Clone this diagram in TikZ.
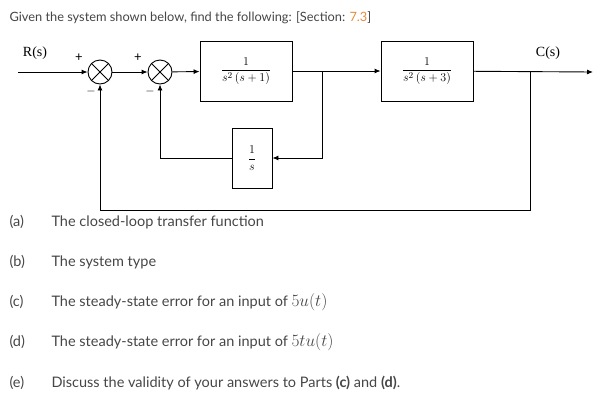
\documentclass[tikz,border=0pt]{standalone}
\usepackage{amsmath}
\usepackage{fontspec}
\setmainfont{Lato}
\newfontfamily\serifb{Liberation Serif}
\usetikzlibrary{arrows.meta}
\definecolor{txt}{RGB}{70,70,70}
\definecolor{lnk}{RGB}{230,140,60}
\begin{document}
\begin{tikzpicture}[x=1pt,y=-1pt,
  blk/.style={draw,line width=0.9pt,minimum width=92pt,minimum height=60pt,inner sep=0pt,font=\fontsize{13}{15}\selectfont},
  sj/.style={draw,circle,line width=0.9pt,minimum size=24pt,inner sep=0pt,path picture={\draw (path picture bounding box.north west)--(path picture bounding box.south east) (path picture bounding box.north east)--(path picture bounding box.south west);}},
  ln/.style={line width=0.9pt},
  ar/.style={ln,-{Latex[length=6pt,width=5pt]}},
  sg/.style={font=\fontsize{13}{14}\selectfont},
  item/.style={anchor=west,text=txt,font=\fontsize{14.5}{16}\selectfont}]
\useasboundingbox (0,0) rectangle (603,400);
\node[item,font=\fontsize{12.8}{14}\selectfont] (title) at (6,18) {Given the system shown below, find the following: [Section: \textcolor{lnk}{7.3}]};
\node[font=\serifb\fontsize{14}{15}\selectfont] (R) at (35,53) {R(s)};
\node[font=\serifb\fontsize{14}{15}\selectfont] (C) at (548,53) {C(s)};
\coordinate (in) at (18,72);
\node[sj] (s1) at (100,72) {};
\node[sj] (s2) at (160,72) {};
\node[blk] (b1) at (246,71) {$\dfrac{1}{s^2\,(s+1)}$};
\node[blk] (b2) at (427,71) {$\dfrac{1}{s^2\,(s+3)}$};
\node[draw,line width=0.9pt,minimum width=40pt,minimum height=60pt,font=\fontsize{13}{15}\selectfont] (b3) at (252,158) {$\dfrac{1}{s}$};
\coordinate (out) at (593,72);
\coordinate (p1) at (322,72);
\coordinate (p2) at (530,72);
\node[sg] (pl1) at (79,58) {+};
\node[sg] (pl2) at (138,58) {+};
\node[sg] (mi1) at (91,91) {$-$};
\node[sg] (mi2) at (150,91) {$-$};
\draw[ar] (in) -- (s1);
\draw[ar] (s1) -- (s2);
\draw[ar] (s2) -- (b1);
\draw[ar] (b1) -- (b2);
\draw[ar] (b2) -- (out);
\draw[ar] (p1) |- (b3.east);
\draw[ar] (b3.west) -| (s2.south);
\draw[ar] (p2) |- (100,210) -- (s1.south);
\node[item] (la) at (6,222) {(a)};
\node[item] (a) at (48,222) {The closed-loop transfer function};
\node[item] (lb) at (6,262) {(b)};
\node[item] (b) at (48,262) {The system type};
\node[item] (lc) at (6,302) {(c)};
\node[item] (c) at (48,302) {The steady-state error for an input of {\fontsize{17}{18}\selectfont$5u(t)$}};
\node[item] (ld) at (6,342) {(d)};
\node[item] (d) at (48,342) {The steady-state error for an input of {\fontsize{17}{18}\selectfont$5tu(t)$}};
\node[item] (le) at (6,383) {(e)};
\node[item] (e) at (48,383) {Discuss the validity of your answers to Parts \textbf{(c)} and \textbf{(d)}.};
\end{tikzpicture}
\end{document}
